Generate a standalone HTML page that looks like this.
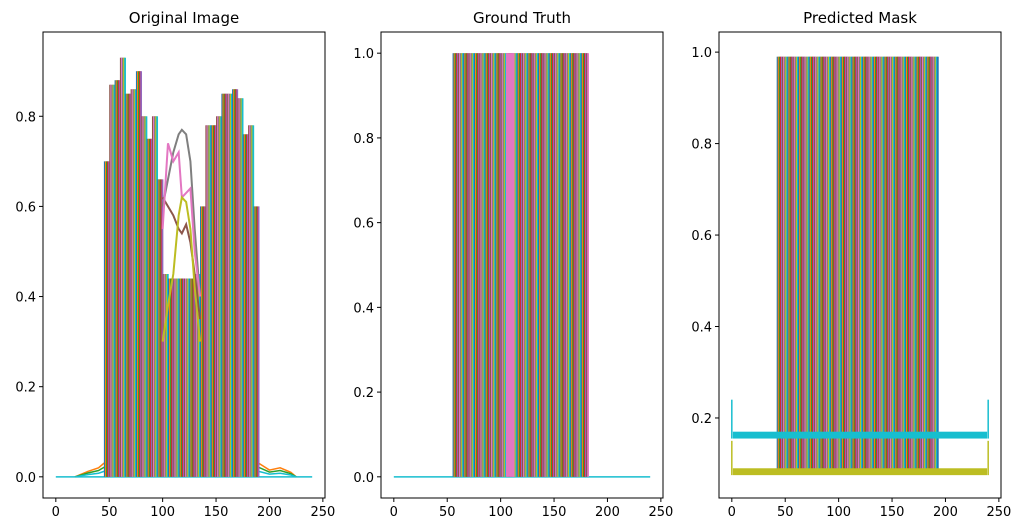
<!DOCTYPE html>
<html><head><meta charset="utf-8"><style>
body{margin:0;background:#fff}
svg{display:block;font-family:"DejaVu Sans","Liberation Sans",sans-serif}
</style></head><body>
<svg id="fig" width="1024" height="532" viewBox="0 0 1024 532" xmlns="http://www.w3.org/2000/svg"></svg>
<script>
const colors = ["#1f77b4","#ff7f0e","#2ca02c","#d62728","#9467bd","#8c564b","#e377c2","#7f7f7f","#bcbd22","#17becf"];
const xTicks = [0,50,100,150,200,250];
const p1YTicks = [0.0,0.2,0.4,0.6,0.8];
const p2YTicks = [0.0,0.2,0.4,0.6,0.8,1.0];
const p3YTicks = [0.2,0.4,0.6,0.8,1.0];
// panel 1: stripe start positions (step 5) and peak heights
const p1Starts = [45,50,55,60,65,70,75,80,85,90,95,100,105,110,115,120,125,130,135,140,145,150,155,160,165,170,175,180,185];
const p1Heights = [0.70,0.87,0.88,0.93,0.85,0.86,0.90,0.80,0.75,0.80,0.66,0.45,0.44,0.44,0.44,0.44,0.44,0.45,0.60,0.78,0.78,0.80,0.85,0.85,0.86,0.84,0.76,0.78,0.60];
// panel 1 extra lines in the middle gap
const p1ExtraX = [100,105,110,115,118,122,126,130,135];
const p1Gray  = [0.60,0.66,0.72,0.76,0.77,0.76,0.70,0.55,0.40];
const p1Pink  = [0.55,0.74,0.70,0.72,0.62,0.63,0.64,0.50,0.40];
const p1Olive = [0.30,0.38,0.45,0.58,0.62,0.61,0.55,0.42,0.30];
const p1Brown = [0.62,0.60,0.58,0.55,0.54,0.56,0.52,0.45,0.35];
// panel 1 baseline clutter
const p1BaseX = [18,30,40,45,190,200,210,220,225];
const p1BaseY = [0.0,0.012,0.02,0.03,0.03,0.015,0.02,0.01,0.0];
// panel 2: ground-truth pulses
const p2Start = 55, p2End = 182;
// panel 3: predicted mask stripes
const p3Start = 42, p3End = 193, p3Top = 0.99;
const p3Cyan = [0.155,0.17], p3Olive = [0.075,0.09], p3Spike = 0.24;

(function(){
const svg = document.getElementById('fig');
const NS = "http://www.w3.org/2000/svg";
function mk(tag, attrs, parent){const e=document.createElementNS(NS,tag);for(const k in attrs)e.setAttribute(k,attrs[k]);(parent||svg).appendChild(e);return e;}

const axTop=32,axBottom=498;
function panel(left, ymin, ymax, yTicks, title, name){
  const right=left+282;
  const g=mk('g',{});
  
  
  const sx=v=>left+(v+12)/264*282;
  const sy=v=>axBottom-(v-ymin)/(ymax-ymin)*(axBottom-axTop);
  const clip=mk('clipPath',{id:'c'+name},g);
  mk('rect',{x:left,y:axTop,width:282,height:axBottom-axTop},clip);
  const plot=mk('g',{'clip-path':'url(#c'+name+')'},g);
  
  
  const frame=mk('rect',{x:left,y:axTop,width:282,height:axBottom-axTop,fill:'none',stroke:'#000','stroke-width':1},g);
  
  
  const t=mk('text',{x:(left+right)/2,y:23,'text-anchor':'middle','font-size':15},g);
  t.textContent=title;
  
  
  xTicks.forEach(v=>{
    mk('line',{x1:sx(v),x2:sx(v),y1:axBottom,y2:axBottom+4,stroke:'#000'},g);
    const l=mk('text',{x:sx(v),y:axBottom+18,'text-anchor':'middle','font-size':13},g);
    l.textContent=v;
    
    
  });
  yTicks.forEach(v=>{
    mk('line',{x1:left-4,x2:left,y1:sy(v),y2:sy(v),stroke:'#000'},g);
    const l=mk('text',{x:left-7,y:sy(v)+5,'text-anchor':'end','font-size':13},g);
    l.textContent=v.toFixed(1);
    
    
  });
  return {plot,sx,sy};
}

// Panel 1
{
  const {plot,sx,sy}=panel(43,-0.047,0.987,p1YTicks,'Original Image','original-image-panel');
  mk('line',{x1:sx(0),x2:sx(240),y1:sy(0),y2:sy(0),stroke:colors[9],'stroke-width':1.5},plot);
  [colors[1],colors[2],colors[9]].forEach((c,j)=>{
    const b=mk('polyline',{points:p1BaseX.map((x,i)=>sx(x)+','+sy(p1BaseY[i]*(1-j*0.3))).join(' '),fill:'none',stroke:c,'stroke-width':1.5},plot);
    
    
  });
  let ci=0;
  p1Starts.forEach((s,i)=>{
    for(let k=0;k<5;k++){
      const r=mk('rect',{x:sx(s+k),y:sy(p1Heights[i]),width:1.8,height:sy(0)-sy(p1Heights[i]),fill:colors[ci%10]},plot);
      
      
      ci++;
    }
  });
  [[p1Brown,colors[5]],[p1Gray,colors[7]],[p1Pink,colors[6]],[p1Olive,colors[8]]].forEach(([arr,c])=>{
    const p=mk('polyline',{points:p1ExtraX.map((x,i)=>sx(x)+','+sy(arr[i])).join(' '),fill:'none',stroke:c,'stroke-width':2},plot);
    
    
  });
}
// Panel 2
{
  const {plot,sx,sy}=panel(381,-0.05,1.05,p2YTicks,'Ground Truth','ground-truth-panel');
  mk('line',{x1:sx(0),x2:sx(240),y1:sy(0),y2:sy(0),stroke:colors[9],'stroke-width':1.5},plot);
  let ci=0;
  for(let x=p2Start;x<p2End;x++){
    const r=mk('rect',{x:sx(x),y:sy(1),width:1.8,height:sy(0)-sy(1),fill:colors[ci%10]},plot);
    
    
    ci++;
  }
  mk('rect',{x:sx(105),y:sy(1),width:sx(113)-sx(105),height:sy(0)-sy(1),fill:colors[6]},plot);
}
// Panel 3
{
  const {plot,sx,sy}=panel(719,0.025,1.044,p3YTicks,'Predicted Mask','predicted-mask-panel');
  let ci=0;
  for(let x=p3Start;x<p3End;x++){
    const r=mk('rect',{x:sx(x),y:sy(p3Top),width:1.8,height:sy(0.08)-sy(p3Top),fill:colors[ci%10]},plot);
    
    
    ci++;
  }
  const cb=mk('rect',{x:sx(1),y:sy(p3Cyan[1]),width:sx(239)-sx(1),height:sy(p3Cyan[0])-sy(p3Cyan[1]),fill:colors[9]},plot);
  
  
  const ob=mk('rect',{x:sx(1),y:sy(p3Olive[1]),width:sx(239)-sx(1),height:sy(p3Olive[0])-sy(p3Olive[1]),fill:colors[8]},plot);
  
  
  [0,240].forEach(x=>{
    const s=mk('line',{x1:sx(x),x2:sx(x),y1:sy(p3Spike),y2:sy(0.155),stroke:colors[9],'stroke-width':1.5},plot);
    
    
    mk('line',{x1:sx(x),x2:sx(x),y1:sy(0.15),y2:sy(0.075),stroke:colors[8],'stroke-width':1.5},plot);
  });
}
})();
</script>
</body></html>
